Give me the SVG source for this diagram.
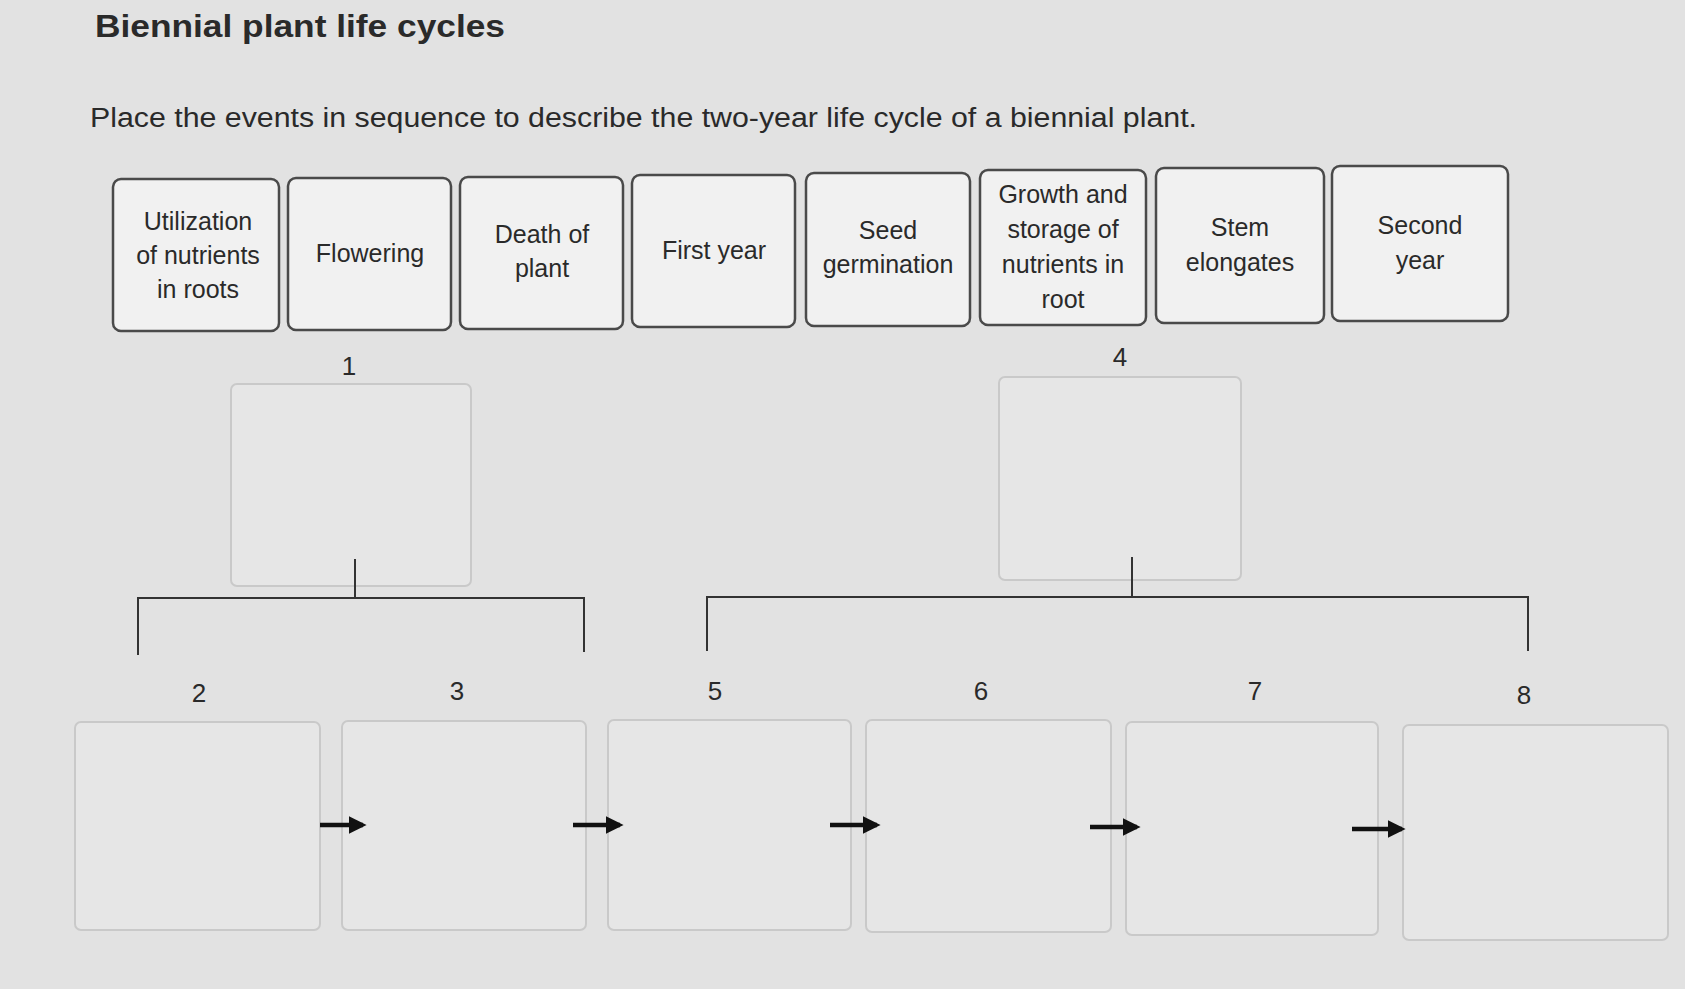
<svg xmlns="http://www.w3.org/2000/svg" width="1685" height="989" viewBox="0 0 1685 989">
<defs>
<style>
text{font-family:"Liberation Sans",Arial,sans-serif;fill:#2a2a2a}
.card rect{fill:#f1f1f1;stroke:#4a4a4a;stroke-width:2.5}
.card text{font-size:25px;text-anchor:middle}
.slot rect{fill:#e6e6e6;stroke:#c9c9c9;stroke-width:2}
.num{font-size:26px;text-anchor:middle}
.ln{stroke:#333;stroke-width:2;fill:none}
.ar{stroke:#111;stroke-width:4.5;fill:none}
</style>
<marker id="ah" viewBox="0 0 10 10" refX="8" refY="5" markerWidth="4" markerHeight="4" orient="auto"><path d="M0,0 L10,5 L0,10 z" fill="#111"/></marker>
</defs>
<rect width="1685" height="989" fill="#e2e2e2"/>
<text x="95" y="37" font-size="32" font-weight="bold" fill="#222" textLength="410" lengthAdjust="spacingAndGlyphs">Biennial plant life cycles</text>
<text x="90" y="127" font-size="27" textLength="1107" lengthAdjust="spacingAndGlyphs">Place the events in sequence to describe the two-year life cycle of a biennial plant.</text>

<g id="c1" class="card"><rect x="113" y="179" width="166" height="152" rx="8"/><text x="198" y="230">Utilization</text><text x="198" y="264">of nutrients</text><text x="198" y="298">in roots</text></g>
<g id="c2" class="card"><rect x="288" y="178" width="163" height="152" rx="8"/><text x="370" y="262">Flowering</text></g>
<g id="c3" class="card"><rect x="460" y="177" width="163" height="152" rx="8"/><text x="542" y="243">Death of</text><text x="542" y="277">plant</text></g>
<g id="c4" class="card"><rect x="632" y="175" width="163" height="152" rx="8"/><text x="714" y="259">First year</text></g>
<g id="c5" class="card"><rect x="806" y="173" width="164" height="153" rx="8"/><text x="888" y="239">Seed</text><text x="888" y="273">germination</text></g>
<g id="c6" class="card"><rect x="980" y="170" width="166" height="155" rx="8"/><text x="1063" y="203">Growth and</text><text x="1063" y="238">storage of</text><text x="1063" y="273">nutrients in</text><text x="1063" y="308">root</text></g>
<g id="c7" class="card"><rect x="1156" y="168" width="168" height="155" rx="8"/><text x="1240" y="236">Stem</text><text x="1240" y="271">elongates</text></g>
<g id="c8" class="card"><rect x="1332" y="166" width="176" height="155" rx="8"/><text x="1420" y="234">Second</text><text x="1420" y="269">year</text></g>

<g id="s1" class="slot"><rect x="231" y="384" width="240" height="202" rx="6"/></g>
<g id="s4" class="slot"><rect x="999" y="377" width="242" height="203" rx="6"/></g>
<g id="s2" class="slot"><rect x="75" y="722" width="245" height="208" rx="6"/></g>
<g id="s3" class="slot"><rect x="342" y="721" width="244" height="209" rx="6"/></g>
<g id="s5" class="slot"><rect x="608" y="720" width="243" height="210" rx="6"/></g>
<g id="s6" class="slot"><rect x="866" y="720" width="245" height="212" rx="6"/></g>
<g id="s7" class="slot"><rect x="1126" y="722" width="252" height="213" rx="6"/></g>
<g id="s8" class="slot"><rect x="1403" y="725" width="265" height="215" rx="6"/></g>

<g id="labels">
<text class="num" x="349" y="375">1</text><text class="num" x="1120" y="366">4</text>
<text class="num" x="199" y="702">2</text><text class="num" x="457" y="700">3</text>
<text class="num" x="715" y="700">5</text><text class="num" x="981" y="700">6</text>
<text class="num" x="1255" y="700">7</text><text class="num" x="1524" y="704">8</text>
</g>

<g id="connectors">
<path class="ln" d="M355,559 V598 M138,655 V598 H584 V652"/>
<path class="ln" d="M1132,557 V597 M707,651 V597 H1528 V651"/>
<line class="ar" x1="320" y1="825" x2="363" y2="825" marker-end="url(#ah)"/>
<line class="ar" x1="573" y1="825" x2="620" y2="825" marker-end="url(#ah)"/>
<line class="ar" x1="830" y1="825" x2="877" y2="825" marker-end="url(#ah)"/>
<line class="ar" x1="1090" y1="827" x2="1137" y2="827" marker-end="url(#ah)"/>
<line class="ar" x1="1352" y1="829" x2="1402" y2="829" marker-end="url(#ah)"/>
</g>
</svg>
